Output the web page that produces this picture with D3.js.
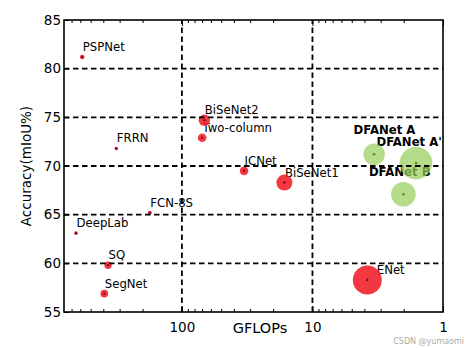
<!DOCTYPE html>
<html>
<head>
<meta charset="utf-8">
<script src="https://cdn.jsdelivr.net/npm/d3@7"></script>
<style>
  html, body { margin: 0; padding: 0; background: #fff; }
  svg { display: block; }
  text { font-family: "DejaVu Sans", sans-serif; }
</style>
</head>
<body>
<svg id="chart" width="474" height="348"></svg>
<script>
// ---- data ----
const models   = ["PSPNet","FRRN","BiSeNet2","Two-column","ICNet","BiSeNet1","ENet","DFANet A","DFANet A'","DFANet B","FCN-8S","DeepLab","SQ","SegNet"];
const gflops   = [580, 318, 67.3, 70, 33.4, 16.4, 3.8, 3.37, 1.61, 2.01, 176, 647, 368, 393];
const miou     = [81.2, 71.8, 74.7, 72.9, 69.5, 68.3, 58.3, 71.2, 70.3, 67.1, 65.2, 63.1, 59.8, 56.9];
const markerSz = [21, 13, 130, 74, 74, 256, 841, 458, 1063, 605, 16, 13, 55, 60];
const group    = ["other","other","other","other","other","other","other","dfanet","dfanet","dfanet","other","other","other","other"];
const xTicks   = [100, 10, 1];
const xTickLabels = ["100", "10", "1"];
const yTicks   = [55, 60, 65, 70, 75, 80, 85];

// label placement offsets (style, pixels)
const labelDx = {"ENet": 9, "DFANet A": -21, "DFANet A'": -40, "DFANet B": -35};
const labelDy = {"DFANet A": -14, "DFANet A'": -11, "DFANet B": -12};

const W = 474, H = 348;
const m = {left: 64, right: 31, top: 20, bottom: 36};
const svg = d3.select("#chart");

const x = d3.scaleLog().domain([800, 1]).range([m.left, W - m.right]);
const y = d3.scaleLinear().domain([55, 85]).range([H - m.bottom, m.top]);
const r = d3.scaleSqrt().domain([0, 1063]).range([0, 16.3]);

const x0 = m.left, x1 = W - m.right, y0 = H - m.bottom, y1 = m.top;

const data = models.map((name, i) => ({name, g: gflops[i], v: miou[i], s: markerSz[i], grp: group[i]}));

// labels (drawn first, circles cover them slightly)
svg.append("g").selectAll("text").data(data).join("text")
  .attr("x", d => x(d.g) + 0.5 + (labelDx[d.name] || 0))
  .attr("y", d => y(d.v) - 6 + (labelDy[d.name] || 0))
  .attr("font-size", 11.7)
  .attr("font-weight", d => d.grp === "dfanet" ? "bold" : "normal")
  .attr("fill", "#000")
  .text(d => d.name);

// circles
const pts = svg.append("g");
pts.selectAll("circle.big").data(data).join("circle")
  .attr("class", "big")
  .attr("cx", d => x(d.g)).attr("cy", d => y(d.v))
  .attr("r", d => r(d.s))
  .attr("fill", d => d.grp === "dfanet" ? "#98d05c" : "#f2222e")
  .attr("fill-opacity", d => d.grp === "dfanet" ? 0.72 : 0.9);
pts.selectAll("circle.ctr").data(data).join("circle")
  .attr("class", "ctr")
  .attr("cx", d => x(d.g)).attr("cy", d => y(d.v))
  .attr("r", 1.3)
  .attr("fill", d => d.grp === "dfanet" ? "#4f8f2c" : "#8e0a22");

// grid
const grid = svg.append("g").attr("stroke", "#000").attr("stroke-width", 1.8).attr("stroke-dasharray", "5.5,3.5");
grid.selectAll("line.gx").data(xTicks.filter(t => t !== 1)).join("line")
  .attr("x1", d => x(d)).attr("x2", d => x(d)).attr("y1", y0).attr("y2", y1);
grid.selectAll("line.gy").data(yTicks.filter(t => t > 55 && t < 85)).join("line")
  .attr("y1", d => y(d)).attr("y2", d => y(d)).attr("x1", x0).attr("x2", x1);

// axes
const tickStyle = g => { g.select(".domain").remove(); g.selectAll("text").attr("font-family", "DejaVu Sans").attr("fill", "#000"); g.selectAll("line").attr("stroke", "#000"); };
const minor = x.ticks().filter(t => xTicks.indexOf(t) < 0 && t < 800);

svg.append("g").attr("transform", `translate(0,${y0})`)
  .call(d3.axisBottom(x).tickValues(xTicks).tickFormat((d, i) => xTickLabels[i]).tickSizeInner(-6).tickSizeOuter(0).tickPadding(10))
  .call(tickStyle).attr("font-size", 13.5);
svg.append("g").attr("transform", `translate(0,${y0})`)
  .call(d3.axisBottom(x).tickValues(minor).tickFormat("").tickSizeInner(-3).tickSizeOuter(0))
  .call(tickStyle);
svg.append("g").attr("transform", `translate(0,${y1})`)
  .call(d3.axisTop(x).tickValues(xTicks).tickFormat("").tickSizeInner(-6).tickSizeOuter(0))
  .call(tickStyle);
svg.append("g").attr("transform", `translate(0,${y1})`)
  .call(d3.axisTop(x).tickValues(minor).tickFormat("").tickSizeInner(-3).tickSizeOuter(0))
  .call(tickStyle);
svg.append("g").attr("transform", `translate(${x0},0)`)
  .call(d3.axisLeft(y).tickValues(yTicks).tickSizeInner(-5).tickSizeOuter(0).tickPadding(3))
  .call(tickStyle).attr("font-size", 13.5);

// frame
svg.append("rect").attr("x", x0).attr("y", y1).attr("width", x1 - x0).attr("height", y0 - y1)
  .attr("fill", "none").attr("stroke", "#000").attr("stroke-width", 1.6);

// axis titles
svg.append("text").attr("x", 260).attr("y", 333).attr("text-anchor", "middle").attr("font-size", 14.5).text("GFLOPs");
svg.append("text").attr("transform", `translate(31,${(y0 + y1) / 2}) rotate(-90)`)
  .attr("text-anchor", "middle").attr("font-size", 13.5).text("Accuracy(mIoU%)");

// watermark
svg.append("text").attr("x", 464).attr("y", 344).attr("text-anchor", "end").attr("font-size", 8)
  .attr("fill", "#aaa").text("CSDN @yumaomi");
</script>
</body>
</html>
